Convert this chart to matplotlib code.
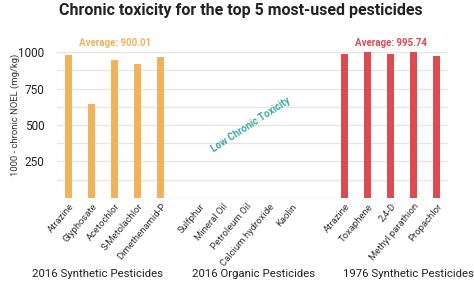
import matplotlib.pyplot as plt
from matplotlib.ticker import MultipleLocator

plt.rcParams['font.family'] = ['Roboto', 'DejaVu Sans']

# data
synth_2016 = ["Atrazine", "Glyphosate", "Acetochlor", "S-Metolachlor", "Dimethenamid-P"]
synth_2016_vals = [981, 642, 947, 919, 970]
organic_2016 = ["Sulfphur", "Mineral Oil", "Petroleum Oil", "Calcium hydroxide", "Kaolin"]
synth_1976 = ["Atrazine", "Toxaphene", "2,4-D", "Methyl parathion", "Propachlor"]
synth_1976_vals = [988, 1000, 988, 1000, 976]
group_names = ["2016 Synthetic Pesticides", "2016 Organic Pesticides", "1976 Synthetic Pesticides"]
avg_texts = ["Average: 900.01", "Average: 995.74"]

orange = "#F2B25C"
red = "#DD4A52"
teal = "#3FA8A2"
grey = "#333333"

x1 = [0, 1, 2, 3, 4]
x2 = [5.7, 6.7, 7.7, 8.7, 9.7]
x3 = [12, 13, 14, 15, 16]

fig = plt.figure(figsize=(4.74, 2.87), dpi=100)
ax = fig.add_axes([0.12, 0.311, 0.825, 0.507])

ax.bar(x1, synth_2016_vals, width=0.3, color=orange, zorder=3)
ax.bar(x3, synth_1976_vals, width=0.3, color=red, zorder=3)

ax.set_xlim(-0.52, 16.48)
ax.set_ylim(0, 1000)
ax.yaxis.set_major_locator(MultipleLocator(250))
ax.yaxis.set_minor_locator(MultipleLocator(125))
ax.grid(axis="y", which="both", color="#E6E6E6", lw=1, zorder=0)
for s in ax.spines.values():
    s.set_visible(False)
ax.tick_params(axis="both", which="both", length=0)
ax.set_yticks([250, 500, 750, 1000])
ax.set_yticklabels(["250", "500", "750", "1000"], fontsize=8.5, color="#222222")
ax.tick_params(axis="y", pad=9)

ax.set_xticks(x1 + x2 + x3)
ax.set_xticklabels(synth_2016 + organic_2016 + synth_1976, rotation=50, ha="right",
                   rotation_mode="anchor", fontsize=6.8, color=grey)
ax.tick_params(axis="x", pad=3)

ax.set_ylabel("1000 - chronic NOEL (mg/kg)", fontsize=6.8, color=grey, labelpad=4)
ax.yaxis.set_label_coords(-0.095, 0.57)

ax.text(2, 1030, avg_texts[0], color=orange, fontsize=7, fontweight="bold", ha="center", va="bottom")
ax.text(14, 1030, avg_texts[1], color=red, fontsize=7, fontweight="bold", ha="center", va="bottom")
ax.text(7.9, 500, "Low Chronic Toxicity", color=teal, fontsize=7, fontweight="bold",
        rotation=33, ha="center", va="center")

fig.text(0.508, 0.965, "Chronic toxicity for the top 5 most-used pesticides", fontsize=11.5,
         fontweight="bold", color="#222222", ha="center", va="center")
for xc, name in zip([0.205, 0.534, 0.861], group_names):
    fig.text(xc, 0.045, name, fontsize=8.2, color="#222222", ha="center", va="center")

fig.savefig("out.png", dpi=100)
